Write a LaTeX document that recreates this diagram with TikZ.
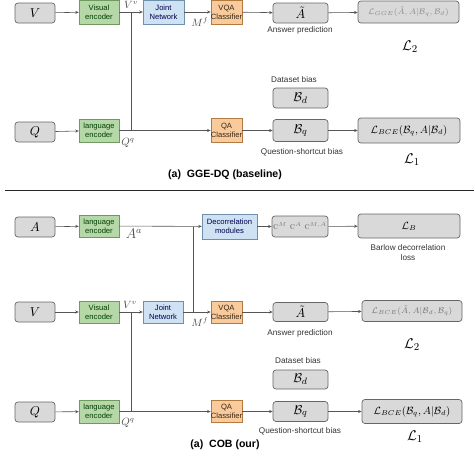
\documentclass[tikz,border=0pt]{standalone}
\usepackage{amsfonts, amssymb, amsmath}
\usepackage{fontspec}
\setsansfont{Liberation Sans}
\usepackage{tikz}
\usetikzlibrary{arrows.meta}
\usetikzlibrary{calc}
\definecolor{boxgray}{HTML}{D9D9D9}
\definecolor{linegray}{HTML}{555555}
\definecolor{encfill}{HTML}{B6D7A8}
\definecolor{encdraw}{HTML}{6E9A5E}
\definecolor{netfill}{HTML}{CFE2F3}
\definecolor{netdraw}{HTML}{6F8FAA}
\definecolor{clsfill}{HTML}{F9CB9C}
\definecolor{clsdraw}{HTML}{B07A40}
\tikzset{sm/.style={font=\sffamily\fontsize{6.5}{7.5}\selectfont, align=center}}
\tikzset{tx/.style={font=\sffamily\fontsize{7}{8.5}\selectfont, text=black!80, align=center, inner sep=1pt}}
\tikzset{inp/.style={draw=black!60, fill=boxgray, rounded corners=2.5pt, line width=0.6pt,
  inner sep=0pt, font=\fontsize{11}{11}\selectfont}}
\tikzset{enc/.style={sm, draw=encdraw, fill=encfill, text=black!75!green, inner sep=0pt}}
\tikzset{net/.style={sm, draw=netdraw, fill=netfill, text=black!70!blue, inner sep=0pt}}
\tikzset{cls/.style={sm, draw=clsdraw, fill=clsfill, text=black!70!brown, inner sep=0pt}}
\tikzset{loss/.style={inp, font=\fontsize{9}{9}\selectfont}}
\tikzset{faint/.style={font=\fontsize{7.5}{7.5}\selectfont}}
\tikzset{big/.style={font=\fontsize{13}{13}\selectfont, inner sep=1pt}}
\tikzset{feat/.style={font=\fontsize{9}{9}\selectfont, text=black!70, inner sep=1pt}}
\tikzset{captext/.style={font=\sffamily\bfseries\fontsize{9}{10}\selectfont}}
\tikzset{conn/.style={draw=linegray, line width=0.5pt}}

\begin{document}
\begin{tikzpicture}[x=0.03cm, y=-0.03cm, >={Stealth[length=3pt,width=2.6pt]}]
  \useasboundingbox (0,0) rectangle (474,476);
  % (a) GGE-DQ
  \node [inp, minimum width=40*0.03cm, minimum height=20*0.03cm] (V) at (35,13) {$V$};
  \node [enc, minimum width=40*0.03cm, minimum height=24*0.03cm] (venc) at (99,12) {Visual\\encoder};
  \node [net, minimum width=41*0.03cm, minimum height=24*0.03cm] (joint) at (163.5,12) {Joint\\Network};
  \node [cls, minimum width=31*0.03cm, minimum height=24*0.03cm] (vqa) at (226.5,12) {VQA\\Classifier};
  \node [inp, minimum width=55*0.03cm, minimum height=20*0.03cm] (At) at (300.5,13) {$\tilde{A}$};
  \node [loss, faint, minimum width=101*0.03cm, minimum height=22*0.03cm, text=black!45] (Lgge) at (408.5,12)
    {$\mathcal{L}_{GGE}(\tilde{A}, A|\mathcal{B}_q, \mathcal{B}_d)$};
  \node [tx] (apred) at (300,30) {Answer prediction};
  \node [big] (L2) at (410,47) {$\mathcal{L}_2$};
  \node [tx] (dbias) at (294,80) {Dataset bias};
  \node [inp, minimum width=55*0.03cm, minimum height=20*0.03cm] (Bd) at (300.5,98) {$\mathcal{B}_d$};
  \node [inp, minimum width=40*0.03cm, minimum height=20*0.03cm] (Q) at (35,132) {$Q$};
  \node [enc, minimum width=40*0.03cm, minimum height=23*0.03cm] (lenc) at (99,130.5) {language\\encoder};
  \node [cls, minimum width=31*0.03cm, minimum height=24*0.03cm] (qa) at (226.5,130.5) {QA\\Classifier};
  \node [inp, minimum width=55*0.03cm, minimum height=22*0.03cm] (Bq) at (300.5,130.5) {$\mathcal{B}_q$};
  \node [loss, minimum width=102*0.03cm, minimum height=25*0.03cm] (Lbce) at (409,130.5)
    {$\mathcal{L}_{BCE}(\mathcal{B}_q, A|\mathcal{B}_d)$};
  \node [tx] (qbias) at (302,152) {Question-shortcut bias};
  \node [big] (L1) at (412,160) {$\mathcal{L}_1$};
  \node [feat] (Vv) at (131,5) {$V^v$};
  \node [feat] (Mf) at (200,22) {$M^f$};
  \node [feat] (Qq) at (128,143) {$Q^q$};
  \coordinate (jv) at ($(venc.east)!0.5!(joint.west)$);
  \draw [conn, ->] (V) -- (venc);
  \draw [conn, ->] (venc) -- (joint);
  \draw [conn, ->] (joint) -- (vqa);
  \draw [conn, ->] (vqa) -- (At);
  \draw [conn, ->] (At) -- (Lgge);
  \draw [conn, ->] (Q) -- (lenc);
  \draw [conn, ->] (lenc) -- (qa);
  \draw [conn, ->] (qa) -- (Bq);
  \draw [conn, ->] (Bq) -- (Lbce);
  \draw [conn] (jv) -- (jv |- lenc.east);
  \node [captext] (capa) at (225,175) {(a)\ \ GGE-DQ (baseline)};
  \coordinate (rl) at (5,190);
  \coordinate (rr) at (474,190);
  \draw [black!85, line width=0.8pt] (rl) -- (rr);
  % (a) COB
  \node [inp, minimum width=40*0.03cm, minimum height=20*0.03cm] (A) at (35,227) {$A$};
  \node [enc, minimum width=40*0.03cm, minimum height=22*0.03cm] (lenc2) at (99,226) {language\\encoder};
  \node [net, minimum width=55*0.03cm, minimum height=25*0.03cm] (decor) at (229.5,226.5) {Decorrelation\\modules};
  \node [inp, minimum width=56*0.03cm, minimum height=21*0.03cm, font=\fontsize{6}{6}\selectfont, text=black!50] (C) at (300,226.5)
    {$\mathbf{C}^{M}\ \mathbf{C}^{A}\ \mathbf{C}^{M,A}$};
  \node [loss, minimum width=102*0.03cm, minimum height=24*0.03cm] (LB) at (409,226) {$\mathcal{L}_B$};
  \node [tx] (barlow) at (408,253) {Barlow decorrelation\\loss};
  \node [inp, minimum width=40*0.03cm, minimum height=20*0.03cm] (V2) at (35,312) {$V$};
  \node [enc, minimum width=40*0.03cm, minimum height=22*0.03cm] (venc2) at (99,312) {Visual\\encoder};
  \node [net, minimum width=40*0.03cm, minimum height=22*0.03cm] (joint2) at (163,312) {Joint\\Network};
  \node [cls, minimum width=31*0.03cm, minimum height=22*0.03cm] (vqa2) at (226.5,312) {VQA\\Classifier};
  \node [inp, minimum width=55*0.03cm, minimum height=19*0.03cm] (At2) at (300.5,312) {$\tilde{A}$};
  \node [loss, faint, minimum width=100*0.03cm, minimum height=21*0.03cm, text=black!55] (Lbce2) at (412,311)
    {$\mathcal{L}_{BCE}(\tilde{A}, A|\mathcal{B}_d, \mathcal{B}_q)$};
  \node [tx] (apred2) at (300,333) {Answer prediction};
  \node [big] (L22) at (412,345) {$\mathcal{L}_2$};
  \node [tx] (dbias2) at (298,361) {Dataset bias};
  \node [inp, minimum width=55*0.03cm, minimum height=19*0.03cm] (Bd2) at (300.5,379.5) {$\mathcal{B}_d$};
  \node [inp, minimum width=40*0.03cm, minimum height=20*0.03cm] (Q2) at (35,412) {$Q$};
  \node [enc, minimum width=40*0.03cm, minimum height=23*0.03cm] (lenc3) at (99,411.5) {language\\encoder};
  \node [cls, minimum width=31*0.03cm, minimum height=22*0.03cm] (qa2) at (226.5,411.5) {QA\\Classifier};
  \node [inp, minimum width=55*0.03cm, minimum height=20*0.03cm] (Bq2) at (300.5,411.5) {$\mathcal{B}_q$};
  \node [loss, minimum width=100*0.03cm, minimum height=24*0.03cm] (Lbce3) at (412,411.5)
    {$\mathcal{L}_{BCE}(\mathcal{B}_q, A|\mathcal{B}_d)$};
  \node [tx] (qbias2) at (300,431) {Question-shortcut bias};
  \node [big] (L12) at (415,437) {$\mathcal{L}_1$};
  \node [font=\fontsize{12}{12}\selectfont, text=black!70, inner sep=1pt] (Aa) at (134,234) {$A^a$};
  \node [feat] (Vv2) at (130,305) {$V^v$};
  \node [feat] (Mf2) at (200,322) {$M^f$};
  \node [feat] (Qq2) at (128,423) {$Q^q$};
  \coordinate (jv2) at ($(venc2.east)!0.5!(joint2.west)$);
  \coordinate (jm) at (193,312);
  \draw [conn, ->] (A) -- (lenc2);
  \draw [conn, ->] (lenc2) -- (decor);
  \draw [conn, ->] (decor) -- (C);
  \draw [conn, ->] (C) -- (LB);
  \draw [conn, ->] (V2) -- (venc2);
  \draw [conn, ->] (venc2) -- (joint2);
  \draw [conn, ->] (joint2) -- (vqa2);
  \draw [conn, ->] (vqa2) -- (At2);
  \draw [conn, ->] (At2) -- (Lbce2);
  \draw [conn, ->] (Q2) -- (lenc3);
  \draw [conn, ->] (lenc3) -- (qa2);
  \draw [conn, ->] (qa2) -- (Bq2);
  \draw [conn, ->] (Bq2) -- (Lbce3);
  \draw [conn] (jv2) -- (jv2 |- lenc3.east);
  \draw [conn] (jm) -- (jm |- decor.west);
  \node [captext] (capb) at (225,445) {(a)\ \ COB (our)};
\end{tikzpicture}
\end{document}
